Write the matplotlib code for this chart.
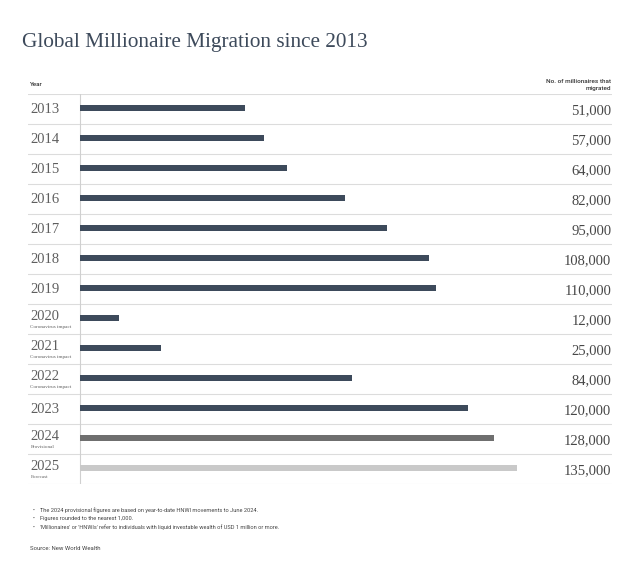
import matplotlib.pyplot as plt
import matplotlib.transforms as mtransforms

years = ["2013", "2014", "2015", "2016", "2017", "2018", "2019",
         "2020", "2021", "2022", "2023", "2024", "2025"]
migrants = [51000, 57000, 64000, 82000, 95000, 108000, 110000,
            12000, 25000, 84000, 120000, 128000, 135000]
notes = ["", "", "", "", "", "", "",
         "Coronavirus impact", "Coronavirus impact", "Coronavirus impact",
         "", "Provisional", "Forecast"]
footnotes = [
    "The 2024 provisional figures are based on year-to-date HNWI movements to June 2024.",
    "Figures rounded to the nearest 1,000.",
    "'Millionaires' or 'HNWIs' refer to individuals with liquid investable wealth of USD 1 million or more.",
]

navy = "#3d4a5b"
bar_colors = [navy] * 11 + ["#6f6f6f", "#c9c9c9"]
serif = "Liberation Serif"
sans = "Roboto"

W, H = 639, 580
fig = plt.figure(figsize=(W / 100, H / 100), dpi=100)
# axes spans the table from the left edge of the row lines to the right edge
ax = fig.add_axes([28 / W, 1 - 484 / H, 584 / W, 390 / H])
ax.set_xlim(-16070, 164450)
ax.set_ylim(len(years) - 0.5, -0.5)
ax.axis("off")

ypos = list(range(len(years)))
ax.barh([y - 0.05 for y in ypos], migrants, height=0.2, color=bar_colors, left=0)

# row separators
for i in range(len(years) + 1):
    ax.axhline(i - 0.5, color="#dcdcdc", lw=0.8, zorder=0)
ax.plot([0, 0], [-0.5, len(years) - 0.5], color="#d0d0d0", lw=0.8, zorder=0)

trans = mtransforms.blended_transform_factory(ax.transAxes, ax.transData)
for y, yr, n, v in zip(ypos, years, notes, migrants):
    if n:
        ax.text(0.004, y - 0.08, yr, transform=trans, family=serif, fontsize=10.5,
                color="#5f5f5f", va="center", ha="left")
        ax.text(0.004, y + 0.28, n, transform=trans, family=serif, fontsize=3.7,
                color="#5f5f5f", va="center", ha="left")
    else:
        ax.text(0.004, y + 0.03, yr, transform=trans, family=serif, fontsize=10.5,
                color="#5f5f5f", va="center", ha="left")
    ax.text(0.999, y + 0.04, f"{v:,}", transform=trans, family=serif, fontsize=10.5,
            color="#474747", va="center", ha="right")

fig.text(22 / W, 1 - 42 / H, "Global Millionaire Migration since 2013", family=serif,
         fontsize=15.3, color=navy, va="center", ha="left")
fig.text(30 / W, 1 - 85 / H, "Year", family=sans, fontsize=4.5, color="#333333",
         va="center", ha="left", fontweight="medium")
fig.text(611 / W, 1 - 85 / H, "No. of millionaires that\nmigrated", family=sans,
         fontsize=4.6, color="#333333", va="center", ha="right", fontweight="medium",
         multialignment="right", linespacing=1.6)

for k, t in enumerate(footnotes):
    fy = 1 - (510 + k * 8.5) / H
    fig.text(33 / W, fy, "\u2022", family=sans, fontsize=4.1, color="#444444", va="center")
    fig.text(40 / W, fy, t, family=sans, fontsize=4.1, color="#444444", va="center")
fig.text(30 / W, 1 - 548 / H, "Source: New World Wealth", family=sans, fontsize=4.3,
         color="#444444", va="center")

fig.savefig("out.png", dpi=100, facecolor="white")
